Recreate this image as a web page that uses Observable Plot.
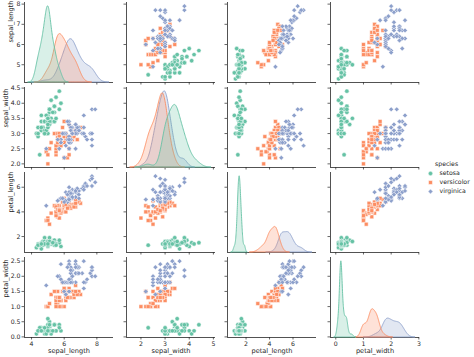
<!DOCTYPE html>
<html><head><meta charset="utf-8">
<script src="https://cdn.jsdelivr.net/npm/d3@7"></script>
<script src="https://cdn.jsdelivr.net/npm/@observablehq/plot@0.6"></script>
<style>
html,body{margin:0;padding:0;background:#fff;}
#fig{position:relative;width:474px;height:357px;overflow:hidden;font-family:"DejaVu Sans",sans-serif;color:#262626;}
#fig svg{position:absolute;overflow:visible;background:transparent;}
.lt{position:absolute;font-size:6.2px;white-space:nowrap;line-height:1;}
</style></head><body><div id="fig"></div>
<script>
// ---- data (Fisher's iris, ordered setosa / versicolor / virginica) ----
const speciesNames = ["setosa", "versicolor", "virginica"];
const speciesColors = ["#66c2a5", "#fc8d62", "#8da0cb"];
const speciesSymbols = ["circle", "square", "diamond2"];
const varNames = ["sepal_length", "sepal_width", "petal_length", "petal_width"];

const sepal_length = [5.1,4.9,4.7,4.6,5.0,5.4,4.6,5.0,4.4,4.9,5.4,4.8,4.8,4.3,5.8,5.7,5.4,5.1,5.7,5.1,5.4,5.1,4.6,5.1,4.8,5.0,5.0,5.2,5.2,4.7,4.8,5.4,5.2,5.5,4.9,5.0,5.5,4.9,4.4,5.1,5.0,4.5,4.4,5.0,5.1,4.8,5.1,4.6,5.3,5.0,
7.0,6.4,6.9,5.5,6.5,5.7,6.3,4.9,6.6,5.2,5.0,5.9,6.0,6.1,5.6,6.7,5.6,5.8,6.2,5.6,5.9,6.1,6.3,6.1,6.4,6.6,6.8,6.7,6.0,5.7,5.5,5.5,5.8,6.0,5.4,6.0,6.7,6.3,5.6,5.5,5.5,6.1,5.8,5.0,5.6,5.7,5.7,6.2,5.1,5.7,
6.3,5.8,7.1,6.3,6.5,7.6,4.9,7.3,6.7,7.2,6.5,6.4,6.8,5.7,5.8,6.4,6.5,7.7,7.7,6.0,6.9,5.6,7.7,6.3,6.7,7.2,6.2,6.1,6.4,7.2,7.4,7.9,6.4,6.3,6.1,7.7,6.3,6.4,6.0,6.9,6.7,6.9,5.8,6.8,6.7,6.7,6.3,6.5,6.2,5.9];
const sepal_width = [3.5,3.0,3.2,3.1,3.6,3.9,3.4,3.4,2.9,3.1,3.7,3.4,3.0,3.0,4.0,4.4,3.9,3.5,3.8,3.8,3.4,3.7,3.6,3.3,3.4,3.0,3.4,3.5,3.4,3.2,3.1,3.4,4.1,4.2,3.1,3.2,3.5,3.6,3.0,3.4,3.5,2.3,3.2,3.5,3.8,3.0,3.8,3.2,3.7,3.3,
3.2,3.2,3.1,2.3,2.8,2.8,3.3,2.4,2.9,2.7,2.0,3.0,2.2,2.9,2.9,3.1,3.0,2.7,2.2,2.5,3.2,2.8,2.5,2.8,2.9,3.0,2.8,3.0,2.9,2.6,2.4,2.4,2.7,2.7,3.0,3.4,3.1,2.3,3.0,2.5,2.6,3.0,2.6,2.3,2.7,3.0,2.9,2.9,2.5,2.8,
3.3,2.7,3.0,2.9,3.0,3.0,2.5,2.9,2.5,3.6,3.2,2.7,3.0,2.5,2.8,3.2,3.0,3.8,2.6,2.2,3.2,2.8,2.8,2.7,3.3,3.2,2.8,3.0,2.8,3.0,2.8,3.8,2.8,2.8,2.6,3.0,3.4,3.1,3.0,3.1,3.1,3.1,2.7,3.2,3.3,3.0,2.5,3.0,3.4,3.0];
const petal_length = [1.4,1.4,1.3,1.5,1.4,1.7,1.4,1.5,1.4,1.5,1.5,1.6,1.4,1.1,1.2,1.5,1.3,1.4,1.7,1.5,1.7,1.5,1.0,1.7,1.9,1.6,1.6,1.5,1.4,1.6,1.6,1.5,1.5,1.4,1.5,1.2,1.3,1.4,1.3,1.5,1.3,1.3,1.3,1.6,1.9,1.4,1.6,1.4,1.5,1.4,
4.7,4.5,4.9,4.0,4.6,4.5,4.7,3.3,4.6,3.9,3.5,4.2,4.0,4.7,3.6,4.4,4.5,4.1,4.5,3.9,4.8,4.0,4.9,4.7,4.3,4.4,4.8,5.0,4.5,3.5,3.8,3.7,3.9,5.1,4.5,4.5,4.7,4.4,4.1,4.0,4.4,4.6,4.0,3.3,4.2,4.2,4.2,4.3,3.0,4.1,
6.0,5.1,5.9,5.6,5.8,6.6,4.5,6.3,5.8,6.1,5.1,5.3,5.5,5.0,5.1,5.3,5.5,6.7,6.9,5.0,5.7,4.9,6.7,4.9,5.7,6.0,4.8,4.9,5.6,5.8,6.1,6.4,5.6,5.1,5.6,6.1,5.6,5.5,4.8,5.4,5.6,5.1,5.1,5.9,5.7,5.2,5.0,5.2,5.4,5.1];
const petal_width = [0.2,0.2,0.2,0.2,0.2,0.4,0.3,0.2,0.2,0.1,0.2,0.2,0.1,0.1,0.2,0.4,0.4,0.3,0.3,0.3,0.2,0.4,0.2,0.5,0.2,0.2,0.4,0.2,0.2,0.2,0.2,0.4,0.1,0.2,0.2,0.2,0.2,0.1,0.2,0.2,0.3,0.3,0.2,0.6,0.4,0.3,0.2,0.2,0.2,0.2,
1.4,1.5,1.5,1.3,1.5,1.3,1.6,1.0,1.3,1.4,1.0,1.5,1.0,1.4,1.3,1.4,1.5,1.0,1.5,1.1,1.8,1.3,1.5,1.2,1.3,1.4,1.4,1.7,1.5,1.0,1.1,1.0,1.2,1.6,1.5,1.6,1.5,1.3,1.3,1.3,1.2,1.4,1.2,1.0,1.3,1.2,1.3,1.3,1.1,1.3,
2.5,1.9,2.1,1.8,2.2,2.1,1.7,1.8,1.8,2.5,2.0,1.9,2.1,2.0,2.4,2.3,1.8,2.2,2.3,1.5,2.3,2.0,2.0,1.8,2.1,1.8,1.8,1.8,2.1,1.6,1.9,2.0,2.2,1.5,1.4,2.3,2.4,1.8,1.8,2.1,2.4,2.3,1.9,2.3,2.5,2.3,1.9,2.0,2.3,1.8];
const speciesCounts = [50, 50, 50];

// tick labels
const xTicks = {sepal_length: [4, 6, 8], sepal_width: [2, 3, 4, 5], petal_length: [2, 4, 6], petal_width: [0, 1, 2, 3]};
const yTicks = {sepal_length: [5, 6, 7, 8], sepal_width: [2.0, 2.5, 3.0, 3.5, 4.0, 4.5], petal_length: [2, 4, 6], petal_width: [0.0, 0.5, 1.0, 1.5, 2.0, 2.5]};
const yTickFmt = {sepal_length: d3.format("d"), sepal_width: d3.format(".1f"), petal_length: d3.format("d"), petal_width: d3.format(".1f")};

// ---- derived table ----
const columns = {sepal_length, sepal_width, petal_length, petal_width};
const species = speciesNames.flatMap((s, i) => Array(speciesCounts[i]).fill(s));
const rows = species.map((s, i) => ({species: s, sepal_length: sepal_length[i], sepal_width: sepal_width[i], petal_length: petal_length[i], petal_width: petal_width[i]}));
const N = rows.length;

// Gaussian KDE (Scott bandwidth, cut = 3, common normalisation) like seaborn
function kde(values) {
  const n = values.length;
  const bw = d3.deviation(values) * Math.pow(n, -1 / 5);
  const lo = d3.min(values) - 3 * bw, hi = d3.max(values) + 3 * bw;
  const G = 200, pts = [];
  for (let k = 0; k < G; k++) {
    const x = lo + (hi - lo) * k / (G - 1);
    let s = 0;
    for (const v of values) { const z = (x - v) / bw; s += Math.exp(-0.5 * z * z); }
    pts.push({x, y: s / (n * bw * Math.sqrt(2 * Math.PI)) * (n / N)});
  }
  return {pts, lo, hi};
}
const pad = ([a, b]) => { const m = (b - a) * 0.05; return [a - m, b + m]; };
const dens = {}, xDom = {}, yDom = {}, dMax = {};
for (const v of varNames) {
  dens[v] = speciesNames.map(s => kde(rows.filter(r => r.species === s).map(r => r[v])));
  xDom[v] = pad([d3.min(dens[v], d => d.lo), d3.max(dens[v], d => d.hi)]);
  yDom[v] = pad(d3.extent(columns[v]));
  dMax[v] = d3.max(dens[v], d => d3.max(d.pts, p => p.y)) * 1.05;
}

// ---- layout ----
const fig = document.getElementById("fig");
const colLeft = [24, 125.5, 227, 330], rowTop = [1.8, 86.6, 172, 257.3];
const yLabelX = [10, 5, 10, 5];
const W = 89, H = 80, mL = 30, mR = 6, mT = 6, mB = 22;
const ink = "#262626";
const base = {width: W + mL + mR, height: H + mT + mB, marginLeft: mL, marginRight: mR, marginTop: mT, marginBottom: mB,
  style: {fontFamily: "DejaVu Sans, sans-serif", fontSize: "6.2px", background: "transparent", overflow: "visible", color: ink}};
const colorScale = {domain: speciesNames, range: speciesColors};
const symbolScale = {domain: speciesNames, range: speciesSymbols};
function place(svg, c, r) {
  svg.style.left = (colLeft[c] - mL) + "px";
  svg.style.top = (rowTop[r] - mT) + "px";
  fig.appendChild(svg);
}
function frameMarks(xv, yv, c, r) {
  const m = [
    Plot.ruleX([xDom[xv][0]], {stroke: ink, strokeWidth: 0.8}),
    Plot.ruleY([yDom[yv][0]], {stroke: ink, strokeWidth: 0.8}),
    Plot.axisX({ticks: xTicks[xv], tickSize: 2.5, tickPadding: 1.5, strokeWidth: 0.7, color: ink, fontSize: 6.2,
      tickFormat: r === 3 ? d3.format("d") : () => "", label: null}),
    Plot.axisY({ticks: yTicks[yv], tickSize: 2.5, tickPadding: 1.5, strokeWidth: 0.7, color: ink, fontSize: 6.2,
      tickFormat: c === 0 ? yTickFmt[yv] : () => "", label: null})
  ];
  if (r === 3) m.push(Plot.text([xv], {frameAnchor: "bottom", dy: 15, fontSize: 6.6, fill: ink}));
  if (c === 0) m.push(Plot.text([yv], {frameAnchor: "left", dx: yLabelX[r] - colLeft[0], rotate: -90, fontSize: 6.6, fill: ink}));
  return m;
}

for (let r = 0; r < 4; r++) {
  for (let c = 0; c < 4; c++) {
    const xv = varNames[c], yv = varNames[r];
    if (r === c) {
      // axes (row scale) then densities on a twin y scale
      place(Plot.plot({...base, x: {domain: xDom[xv], axis: null}, y: {domain: yDom[yv], axis: null},
        marks: frameMarks(xv, yv, c, r)}), c, r);
      const areas = speciesNames.map((s, i) => Plot.areaY(dens[xv][i].pts, {x: "x", y: "y",
        fill: speciesColors[i], fillOpacity: 0.25, stroke: speciesColors[i], strokeWidth: 0.9})).reverse();
      place(Plot.plot({...base, x: {domain: xDom[xv], axis: null}, y: {domain: [0, dMax[xv]], axis: null}, marks: areas}), c, r);
    } else {
      place(Plot.plot({...base, x: {domain: xDom[xv], axis: null}, y: {domain: yDom[yv], axis: null},
        color: colorScale, symbol: symbolScale,
        marks: [
          ...frameMarks(xv, yv, c, r),
          Plot.dot(rows, {x: xv, y: yv, fill: "species", symbol: "species", stroke: "white", strokeWidth: 0.5, r: 2.2})
        ]}), c, r);
    }
  }
}

// ---- legend ----
const title = document.createElement("div");
title.className = "lt"; title.textContent = "species";
title.style.left = "435px"; title.style.top = "160.5px";
fig.appendChild(title);
const leg = Plot.plot({width: 50, height: 30, marginLeft: 5, marginRight: 5, marginTop: 8, marginBottom: 4,
  style: {fontFamily: "DejaVu Sans, sans-serif", fontSize: "6.2px", background: "transparent", overflow: "visible"},
  x: {domain: [0, 1], axis: null}, y: {type: "point", domain: speciesNames, padding: 0, axis: null},
  color: colorScale, symbol: symbolScale,
  marks: [
    Plot.dot(speciesNames, {y: d => d, frameAnchor: "left", fill: d => d, symbol: d => d, stroke: "white", strokeWidth: 0.5, r: 2.2}),
    Plot.text(speciesNames, {y: d => d, frameAnchor: "left", dx: 9, textAnchor: "start", fill: ink, fontSize: 6.2})
  ]});
leg.style.left = "425px"; leg.style.top = "165px";
fig.appendChild(leg);
</script>
</body></html>
